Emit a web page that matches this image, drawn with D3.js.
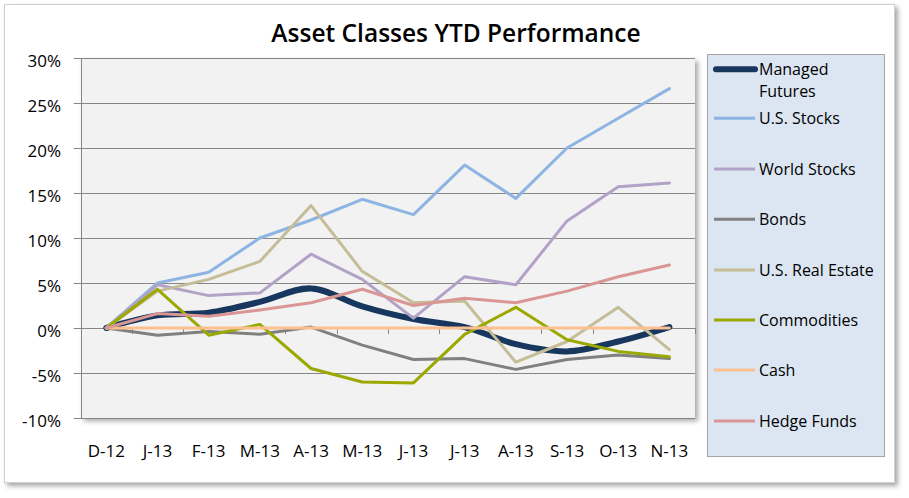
<!DOCTYPE html>
<html>
<head>
<meta charset="utf-8">
<script src="https://cdn.jsdelivr.net/npm/d3@7"></script>
<style>
  body { margin: 0; background: #fff; }
  text { font-family: "Open Sans", sans-serif; fill: #000; }
</style>
</head>
<body>
<div id="chart"></div>
<script>
// Categories (month ends)
var months = ["D-12", "J-13", "F-13", "M-13", "A-13", "M-13", "J-13", "J-13", "A-13", "S-13", "O-13", "N-13"];

// Series values, YTD % return
var managedFutures = [0, 1.4, 1.7, 2.9, 4.4, 2.4, 1.0, 0.1, -1.8, -2.6, -1.5, 0.1];
var usStocks = [0, 5.0, 6.2, 10.0, 12.0, 14.3, 12.6, 18.1, 14.4, 20.0, 23.3, 26.6];
var worldStocks = [0, 4.8, 3.6, 3.9, 8.2, 5.4, 1.1, 5.7, 4.8, 11.9, 15.7, 16.1];
var bonds = [0, -0.8, -0.4, -0.7, 0.1, -1.9, -3.5, -3.4, -4.6, -3.5, -3.0, -3.4];
var realEstate = [0, 4.1, 5.4, 7.4, 13.6, 6.3, 2.8, 3.0, -3.8, -1.5, 2.3, -2.4];
var commodities = [0, 4.3, -0.8, 0.4, -4.5, -6.0, -6.1, -0.7, 2.3, -1.3, -2.6, -3.2];
var cash = [0, 0, 0, 0, 0, 0, 0, 0, 0, 0, 0, 0];
var hedgeFunds = [0, 1.6, 1.3, 2.0, 2.8, 4.3, 2.5, 3.3, 2.8, 4.1, 5.7, 7.0];

// Y axis ticks
var yTicks = [-10, -5, 0, 5, 10, 15, 20, 25, 30];

var seriesNames = ["Managed Futures", "U.S. Stocks", "World Stocks", "Bonds", "U.S. Real Estate", "Commodities", "Cash", "Hedge Funds"];
var seriesValues = [managedFutures, usStocks, worldStocks, bonds, realEstate, commodities, cash, hedgeFunds];
var seriesColors = ["#17375e", "#8db4e2", "#b3a2c7", "#808080", "#c4bd97", "#9aa800", "#fac090", "#d99694"];

var svgWidth = 909;
var svgHeight = 498;

var plot = { left: 80.7, top: 58, right: 695, bottom: 418 };

var svg = d3.select("#chart")
  .append("svg")
  .attr("width", svgWidth)
  .attr("height", svgHeight);

// shadow filters
var defs = svg.append("defs");
var shadow = defs.append("filter").attr("id", "shadow")
  .attr("x", "-5%").attr("y", "-5%").attr("width", "115%").attr("height", "115%");
shadow.append("feDropShadow")
  .attr("dx", 3).attr("dy", 3).attr("stdDeviation", 2.5)
  .attr("flood-color", "#000").attr("flood-opacity", 0.35);

// Outer chart frame
svg.append("rect")
  .attr("x", 4.5).attr("y", 4.5)
  .attr("width", 890).attr("height", 478)
  .attr("fill", "#fff")
  .attr("stroke", "#d0d0d0")
  .attr("filter", "url(#shadow)");

// Title
svg.append("text")
  .attr("x", 456)
  .attr("y", 42)
  .attr("text-anchor", "middle")
  .style("font-size", "24.5px")
  .style("font-weight", "600")
  .text("Asset Classes YTD Performance");

// Scales
var x = d3.scaleBand()
  .domain(d3.range(months.length))
  .range([plot.left, plot.right]);

var y = d3.scaleLinear()
  .domain([-10, 30])
  .range([plot.bottom, plot.top]);

// Plot area
svg.append("rect")
  .attr("x", plot.left).attr("y", plot.top)
  .attr("width", plot.right - plot.left)
  .attr("height", plot.bottom - plot.top)
  .attr("fill", "#f2f2f2")
  .attr("filter", "url(#shadow)");

// Gridlines
svg.append("g")
  .selectAll("line")
  .data(yTicks)
  .enter()
  .append("line")
  .attr("x1", plot.left - 7)
  .attr("x2", plot.right)
  .attr("y1", d => Math.round(y(d)) + 0.5)
  .attr("y2", d => Math.round(y(d)) + 0.5)
  .attr("stroke", "#868686")
  .attr("stroke-width", 1);

// Y axis line
svg.append("line")
  .attr("x1", Math.round(plot.left) + 0.5)
  .attr("x2", Math.round(plot.left) + 0.5)
  .attr("y1", plot.top)
  .attr("y2", plot.bottom + 0.5)
  .attr("stroke", "#868686");

// Y labels
svg.append("g")
  .selectAll("text")
  .data(yTicks)
  .enter()
  .append("text")
  .attr("x", 61)
  .attr("y", d => y(d) + 9)
  .attr("text-anchor", "end")
  .style("font-size", "17px")
  .text(d => d + "%");

// Category ticks on the zero line
var boundaries = d3.range(months.length + 1).map(i => i < months.length ? x(i) : x(i - 1) + x.bandwidth());
svg.append("g")
  .selectAll("line")
  .data(boundaries)
  .enter()
  .append("line")
  .attr("x1", d => Math.round(d) + 0.5)
  .attr("x2", d => Math.round(d) + 0.5)
  .attr("y1", y(0))
  .attr("y2", y(0) + 6)
  .attr("stroke", "#868686");

// X labels
svg.append("g")
  .selectAll("text")
  .data(months)
  .enter()
  .append("text")
  .attr("x", (d, i) => x(i) + x.bandwidth() / 2)
  .attr("y", 457)
  .attr("text-anchor", "middle")
  .style("font-size", "17px")
  .text(d => d);

// Lines
var straight = d3.line()
  .x((d, i) => x(i) + x.bandwidth() / 2)
  .y(d => y(d));

var smooth = d3.line()
  .x((d, i) => x(i) + x.bandwidth() / 2)
  .y(d => y(d))
  .curve(d3.curveCatmullRom.alpha(0.5));

svg.append("g")
  .selectAll("path")
  .data(seriesValues)
  .enter()
  .append("path")
  .attr("d", (d, i) => i === 0 ? smooth(d) : straight(d))
  .attr("fill", "none")
  .attr("stroke", (d, i) => seriesColors[i])
  .attr("stroke-width", (d, i) => i === 0 ? 6 : 3)
  .attr("stroke-linecap", "round")
  .attr("stroke-linejoin", "round");

// Legend
var legend = svg.append("g");
legend.append("rect")
  .attr("x", 707.5).attr("y", 54.5)
  .attr("width", 177).attr("height", 402)
  .attr("fill", "#dce6f2")
  .attr("stroke", "#a5a5a5");

var legendY = [69.3, 118.3, 169, 219.3, 270, 320, 370, 421];

var items = legend.selectAll("g.item")
  .data(seriesNames)
  .enter()
  .append("g")
  .attr("class", "item")
  .attr("transform", (d, i) => `translate(0, ${legendY[i]})`);

items.append("line")
  .attr("x1", (d, i) => i === 0 ? 716 : 714)
  .attr("x2", (d, i) => i === 0 ? 755 : 755)
  .attr("stroke", (d, i) => seriesColors[i])
  .attr("stroke-width", (d, i) => i === 0 ? 6 : 3)
  .attr("stroke-linecap", (d, i) => i === 0 ? "round" : "butt");

items.append("text")
  .attr("x", 759)
  .attr("y", 6)
  .style("font-size", "16px")
  .each(function(d) {
    var words = d === "Managed Futures" ? ["Managed", "Futures"] : [d];
    var t = d3.select(this);
    words.forEach(function(w, k) {
      t.append("tspan").attr("x", 759).attr("dy", k === 0 ? 0 : 22).text(w);
    });
  });
</script>
</body>
</html>
